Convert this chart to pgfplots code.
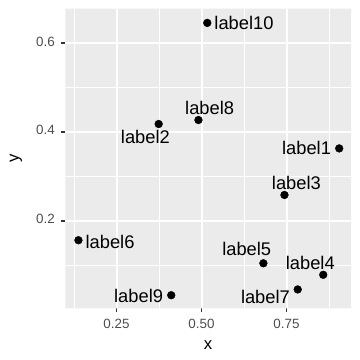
\documentclass[border=0pt]{standalone}
\usepackage{pgfplots}
\pgfplotsset{compat=1.18}
\usepackage{fontspec}
\setmainfont{Liberation Sans}
\definecolor{panelbg}{HTML}{EBEBEB}
\definecolor{gridc}{HTML}{FEFEFE}
\definecolor{ticktext}{HTML}{4D4D4D}
\definecolor{tickcol}{HTML}{333333}
\begin{document}
\begin{tikzpicture}
\useasboundingbox (-65.3bp,-51.7bp) rectangle (294.7bp,308.3bp);
\begin{axis}[
 at={(0,0)}, anchor=south west,
 scale only axis, width=285.7bp, height=299.6bp,
 xmin=0.0994, xmax=0.9397, ymin=0.0025, ymax=0.678,
 clip=false,
 axis line style={draw=none},
 xtick={0.25,0.5,0.75}, xticklabels={0.25,0.50,0.75},
 ytick={0.2,0.4,0.6}, yticklabels={0.2,0.4,0.6},
 tick align=outside, tick pos=left,
 major tick length=3.8bp,
 major tick style={draw=tickcol, line width=1.6bp},
 /pgf/number format/assume math mode=true,
 xticklabel style={font=\fontsize{13.4bp}{15bp}\selectfont, text=ticktext, inner sep=0pt, anchor=north, yshift=-6bp},
 yticklabel style={font=\fontsize{13.4bp}{15bp}\selectfont, text=ticktext, inner sep=0pt, anchor=east, xshift=-6.5bp},
 typeset ticklabels with strut=false,
 xlabel={x}, ylabel={y},
 xlabel style={font=\fontsize{16.7bp}{18bp}\selectfont, inner sep=0pt, at={(axis description cs:0.5,0)}, anchor=center, yshift=-36.7bp},
 ylabel style={font=\fontsize{16.7bp}{18bp}\selectfont, inner sep=0pt, at={(axis description cs:0,0.5)}, anchor=center, yshift=49.3bp},
]
% panel background
\addplot[fill=panelbg, draw=none] coordinates {(0.0994,0.0025) (0.9397,0.0025) (0.9397,0.678) (0.0994,0.678)} \closedcycle;
% minor grid
\addplot[draw=gridc, line width=1bp, mark=none] coordinates {(0.125,0.0025) (0.125,0.678)};
\addplot[draw=gridc, line width=1bp, mark=none] coordinates {(0.375,0.0025) (0.375,0.678)};
\addplot[draw=gridc, line width=1bp, mark=none] coordinates {(0.625,0.0025) (0.625,0.678)};
\addplot[draw=gridc, line width=1bp, mark=none] coordinates {(0.875,0.0025) (0.875,0.678)};
\addplot[draw=gridc, line width=1bp, mark=none] coordinates {(0.0994,0.1) (0.9397,0.1)};
\addplot[draw=gridc, line width=1bp, mark=none] coordinates {(0.0994,0.3) (0.9397,0.3)};
\addplot[draw=gridc, line width=1bp, mark=none] coordinates {(0.0994,0.5) (0.9397,0.5)};
% major grid
\addplot[draw=gridc, line width=2bp, mark=none] coordinates {(0.25,0.0025) (0.25,0.678)};
\addplot[draw=gridc, line width=2bp, mark=none] coordinates {(0.5,0.0025) (0.5,0.678)};
\addplot[draw=gridc, line width=2bp, mark=none] coordinates {(0.75,0.0025) (0.75,0.678)};
\addplot[draw=gridc, line width=2bp, mark=none] coordinates {(0.0994,0.2) (0.9397,0.2)};
\addplot[draw=gridc, line width=2bp, mark=none] coordinates {(0.0994,0.4) (0.9397,0.4)};
\addplot[draw=gridc, line width=2bp, mark=none] coordinates {(0.0994,0.6) (0.9397,0.6)};
% points
\addplot[only marks, mark=*, mark size=3.9bp, black] coordinates {
 (0.905,0.363) (0.374,0.418) (0.744,0.258) (0.858,0.078) (0.682,0.104)
 (0.138,0.156) (0.783,0.045) (0.491,0.427) (0.411,0.032) (0.517,0.646)
};
\begin{scope}[every node/.style={font=\fontsize{18.3bp}{20bp}\selectfont, inner sep=0pt, text=black}]
\node at (axis cs:0.809,0.363) {label1};
\node at (axis cs:0.335,0.389) {label2};
\node at (axis cs:0.779,0.285) {label3};
\node at (axis cs:0.820,0.105) {label4};
\node at (axis cs:0.633,0.1355) {label5};
\node at (axis cs:0.231,0.153) {label6};
\node at (axis cs:0.688,0.0286) {label7};
\node at (axis cs:0.524,0.455) {label8};
\node at (axis cs:0.315,0.030) {label9};
\node at (axis cs:0.625,0.646) {label10};
\end{scope}
\end{axis}
\end{tikzpicture}
\end{document}
